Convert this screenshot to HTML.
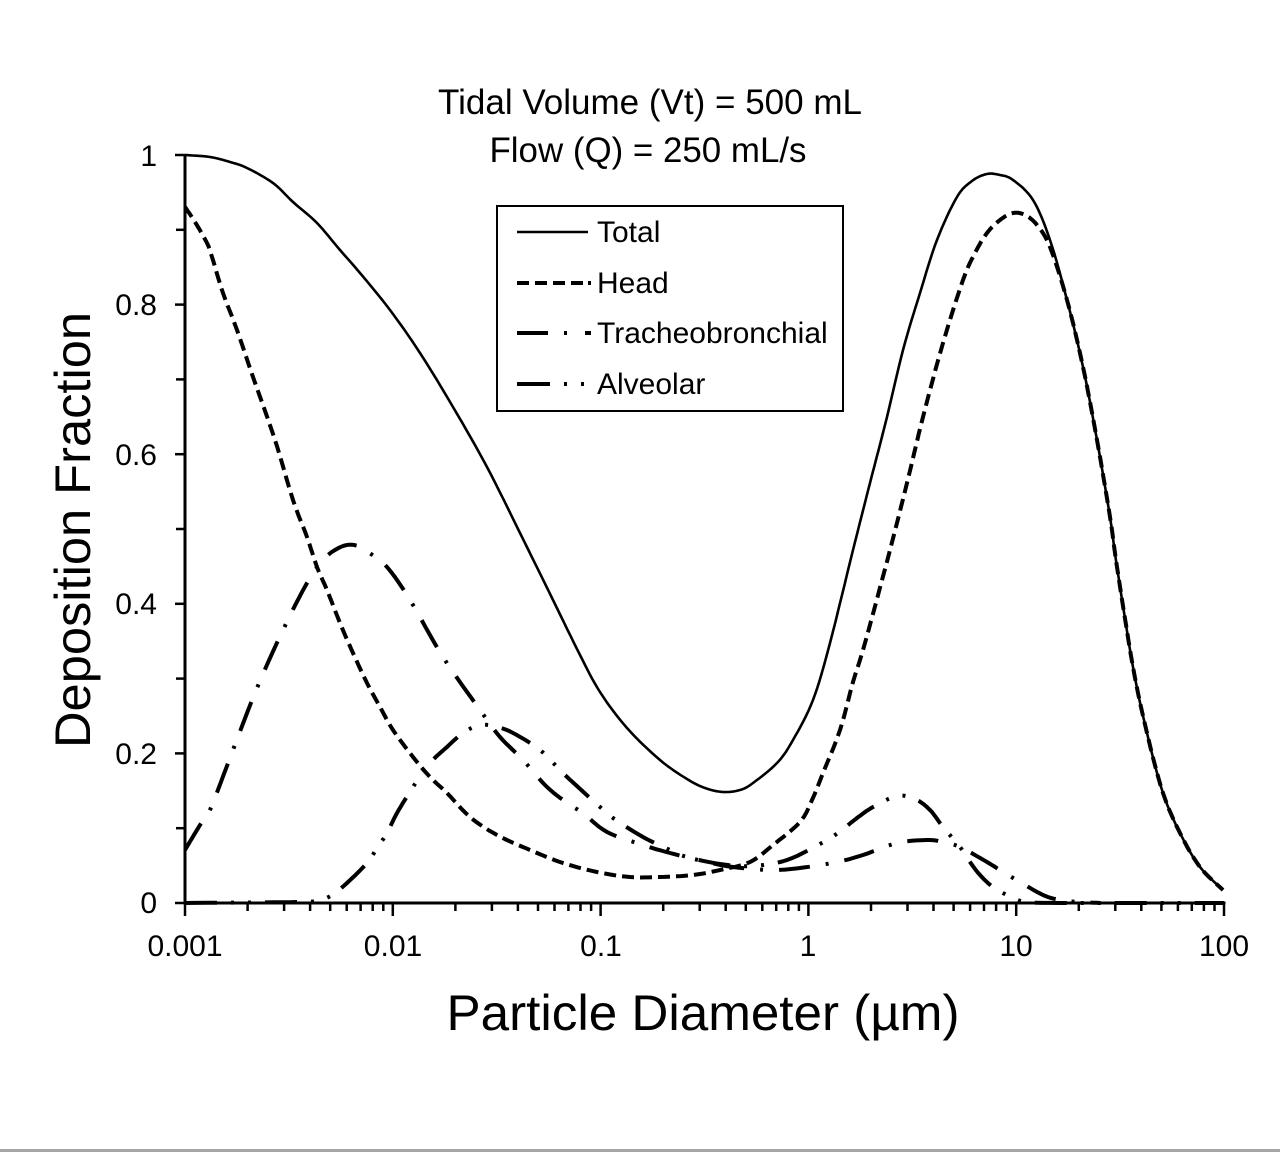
<!DOCTYPE html>
<html>
<head>
<meta charset="utf-8">
<style>
  html, body { margin: 0; padding: 0; background: #ffffff; }
  body { width: 1280px; height: 1152px; overflow: hidden; }
  svg { display: block; }
  text { font-family: "Liberation Sans", "DejaVu Sans", sans-serif; fill: #000; }
</style>
</head>
<body>
<svg width="1280" height="1152" viewBox="0 0 1280 1152" xmlns="http://www.w3.org/2000/svg">
  <rect x="0" y="0" width="1280" height="1152" fill="#ffffff"/>
  <rect x="0" y="1149" width="1280" height="3" fill="#a6a6a6"/>

  <text x="650" y="114" font-size="35" text-anchor="middle" textLength="424" lengthAdjust="spacingAndGlyphs">Tidal Volume (Vt) = 500 mL</text>
  <text x="648" y="162" font-size="35" text-anchor="middle" textLength="317" lengthAdjust="spacingAndGlyphs">Flow (Q) = 250 mL/s</text>

  <text transform="translate(90,530) rotate(-90)" font-size="50" text-anchor="middle" textLength="436" lengthAdjust="spacingAndGlyphs">Deposition Fraction</text>
  <text x="703" y="1030" font-size="50" text-anchor="middle" textLength="513" lengthAdjust="spacingAndGlyphs">Particle Diameter (µm)</text>

  <g font-size="30" text-anchor="end">
    <text x="157" y="166">1</text>
    <text x="157" y="315">0.8</text>
    <text x="157" y="465">0.6</text>
    <text x="157" y="614">0.4</text>
    <text x="157" y="764">0.2</text>
    <text x="157" y="913">0</text>
  </g>
  <g font-size="30" text-anchor="middle">
    <text x="185" y="956">0.001</text>
    <text x="393" y="956">0.01</text>
    <text x="601" y="956">0.1</text>
    <text x="808" y="956">1</text>
    <text x="1016" y="956">10</text>
    <text x="1224" y="956">100</text>
  </g>

  <g stroke="#000" stroke-width="3" fill="none">
    <line x1="185" y1="154" x2="185" y2="904.5"/>
    <line x1="183.5" y1="903" x2="1225.5" y2="903"/>
  </g>
  <g stroke="#000" stroke-width="2.5">
    <line x1="175" y1="155" x2="185" y2="155"/>
    <line x1="176" y1="229.8" x2="185" y2="229.8"/>
    <line x1="175" y1="304.6" x2="185" y2="304.6"/>
    <line x1="176" y1="379.4" x2="185" y2="379.4"/>
    <line x1="175" y1="454.2" x2="185" y2="454.2"/>
    <line x1="176" y1="529" x2="185" y2="529"/>
    <line x1="175" y1="603.8" x2="185" y2="603.8"/>
    <line x1="176" y1="678.6" x2="185" y2="678.6"/>
    <line x1="175" y1="753.4" x2="185" y2="753.4"/>
    <line x1="176" y1="828.2" x2="185" y2="828.2"/>
    <line x1="175" y1="903" x2="185" y2="903"/>
  </g>
  <g stroke="#000" stroke-width="2.5">
    <line x1="185" y1="903" x2="185" y2="916"/>
    <line x1="392.8" y1="903" x2="392.8" y2="916"/>
    <line x1="600.6" y1="903" x2="600.6" y2="916"/>
    <line x1="808.4" y1="903" x2="808.4" y2="916"/>
    <line x1="1016.2" y1="903" x2="1016.2" y2="916"/>
    <line x1="1224" y1="903" x2="1224" y2="916"/>
    <line x1="247.6" y1="903" x2="247.6" y2="911"/>
    <line x1="284.1" y1="903" x2="284.1" y2="911"/>
    <line x1="310.1" y1="903" x2="310.1" y2="911"/>
    <line x1="330.2" y1="903" x2="330.2" y2="911"/>
    <line x1="346.7" y1="903" x2="346.7" y2="911"/>
    <line x1="360.6" y1="903" x2="360.6" y2="911"/>
    <line x1="372.7" y1="903" x2="372.7" y2="911"/>
    <line x1="383.3" y1="903" x2="383.3" y2="911"/>
    <line x1="455.4" y1="903" x2="455.4" y2="911"/>
    <line x1="491.9" y1="903" x2="491.9" y2="911"/>
    <line x1="517.9" y1="903" x2="517.9" y2="911"/>
    <line x1="538.0" y1="903" x2="538.0" y2="911"/>
    <line x1="554.5" y1="903" x2="554.5" y2="911"/>
    <line x1="568.4" y1="903" x2="568.4" y2="911"/>
    <line x1="580.5" y1="903" x2="580.5" y2="911"/>
    <line x1="591.1" y1="903" x2="591.1" y2="911"/>
    <line x1="663.2" y1="903" x2="663.2" y2="911"/>
    <line x1="699.7" y1="903" x2="699.7" y2="911"/>
    <line x1="725.7" y1="903" x2="725.7" y2="911"/>
    <line x1="745.8" y1="903" x2="745.8" y2="911"/>
    <line x1="762.3" y1="903" x2="762.3" y2="911"/>
    <line x1="776.2" y1="903" x2="776.2" y2="911"/>
    <line x1="788.3" y1="903" x2="788.3" y2="911"/>
    <line x1="798.9" y1="903" x2="798.9" y2="911"/>
    <line x1="871.0" y1="903" x2="871.0" y2="911"/>
    <line x1="907.5" y1="903" x2="907.5" y2="911"/>
    <line x1="933.5" y1="903" x2="933.5" y2="911"/>
    <line x1="953.6" y1="903" x2="953.6" y2="911"/>
    <line x1="970.1" y1="903" x2="970.1" y2="911"/>
    <line x1="984.0" y1="903" x2="984.0" y2="911"/>
    <line x1="996.1" y1="903" x2="996.1" y2="911"/>
    <line x1="1006.7" y1="903" x2="1006.7" y2="911"/>
    <line x1="1078.8" y1="903" x2="1078.8" y2="911"/>
    <line x1="1115.3" y1="903" x2="1115.3" y2="911"/>
    <line x1="1141.3" y1="903" x2="1141.3" y2="911"/>
    <line x1="1161.4" y1="903" x2="1161.4" y2="911"/>
    <line x1="1177.9" y1="903" x2="1177.9" y2="911"/>
    <line x1="1191.8" y1="903" x2="1191.8" y2="911"/>
    <line x1="1203.9" y1="903" x2="1203.9" y2="911"/>
    <line x1="1214.5" y1="903" x2="1214.5" y2="911"/>
  </g>

  <g fill="none" stroke="#000" stroke-linejoin="round">
    <polyline class="smooth" stroke-width="4" stroke-dasharray="32 14 3 14 3 14"
      points="185,903 300,902 320,900 332,895 347,883 367,863 377,848 387,833 397,813 413,787 430,763 447,747 463,733 480,725 497,727 513,733 540,750 565,775 600,807 613,818 643,837 670,850 687,857 720,864 750,866 787,860 827,840 843,829 857,818 873,807 897,796 915,799 930,810 943,827 960,847 970,862 980,875 993,887 1013,898 1027,902 1060,903 1224,903"/>
    <polyline class="smooth" stroke-width="4" stroke-dasharray="31 16 3 16"
      points="185,850 200,825 210,810 233,750 257,688 283,630 307,583 323,560 335,550 347,545 358,546 368,552 387,567 410,600 443,657 480,710 500,737 523,760 547,787 570,805 583,813 607,832 643,845 670,853 707,862 733,867 770,870 800,868 837,862 863,855 897,843 927,840 943,842 960,847 987,862 1003,872 1020,882 1043,895 1060,900 1080,902 1100,903"/>
    <polyline class="smooth" stroke-width="4" stroke-dasharray="12 6"
      points="185,207 195,222 207,243 212,257 223,293 237,330 253,377 275,440 293,500 307,537 317,567 327,590 340,623 353,653 367,683 380,707 393,730 413,757 430,777 447,793 470,817 497,835 530,850 563,863 597,872 630,877 660,877 693,875 720,870 750,862 773,845 800,822 812,800 823,773 840,730 853,682 865,643 890,550 907,483 923,417 943,343 963,280 975,253 987,233 1000,220 1013,213 1025,215 1037,225 1050,247 1067,300 1083,367 1097,440 1110,517 1117,567 1133,667 1147,733 1163,793 1180,833 1200,867 1223,890"/>
    <polyline class="smooth" stroke-width="2.6"
      points="185,155 210,157 230,162 247,168 273,183 293,202 317,223 340,250 360,273 390,310 420,353 453,407 487,467 520,533 553,600 580,655 600,692 627,728 660,760 687,779 705,788 723,792 740,790 753,783 777,763 793,740 813,700 830,643 853,550 870,483 887,417 903,350 920,293 937,240 957,197 972,181 987,174 1000,175 1013,180 1033,200 1050,240 1067,300 1083,367 1097,440 1110,517 1117,567 1133,667 1147,733 1163,793 1180,833 1200,867 1223,890"/>
  </g>

  <rect x="497" y="206" width="346" height="205" fill="#ffffff" stroke="#000" stroke-width="2"/>
  <g stroke="#000" fill="none">
    <line x1="517" y1="232" x2="588" y2="232" stroke-width="2.6"/>
    <line x1="517" y1="283" x2="591" y2="283" stroke-width="4" stroke-dasharray="12 6 12 6 12 6 12 5 3 50"/>
    <line x1="517" y1="333" x2="591" y2="333" stroke-width="4" stroke-dasharray="31 16 3 18 6 50"/>
    <line x1="517" y1="384" x2="591" y2="384" stroke-width="4" stroke-dasharray="33 14 3 14 3 50"/>
  </g>
  <g font-size="30">
    <text x="597" y="242">Total</text>
    <text x="597" y="293">Head</text>
    <text x="597" y="343">Tracheobronchial</text>
    <text x="597" y="394">Alveolar</text>
  </g>
</svg>
<script>
(function(){
  var els = document.querySelectorAll('polyline.smooth');
  for (var e = 0; e < els.length; e++) {
    var el = els[e];
    var raw = el.getAttribute('points').trim().split(/\s+/);
    var p = [];
    for (var i = 0; i < raw.length; i++) { var c = raw[i].split(','); p.push([+c[0], +c[1]]); }
    var out = [];
    for (var i = 0; i < p.length - 1; i++) {
      var p0 = p[i > 0 ? i - 1 : i], p1 = p[i], p2 = p[i + 1], p3 = p[i + 2 < p.length ? i + 2 : i + 1];
      for (var k = 0; k < 8; k++) {
        var t = k / 8, t2 = t * t, t3 = t2 * t;
        var x = 0.5 * ((2 * p1[0]) + (-p0[0] + p2[0]) * t + (2 * p0[0] - 5 * p1[0] + 4 * p2[0] - p3[0]) * t2 + (-p0[0] + 3 * p1[0] - 3 * p2[0] + p3[0]) * t3);
        var y = 0.5 * ((2 * p1[1]) + (-p0[1] + p2[1]) * t + (2 * p0[1] - 5 * p1[1] + 4 * p2[1] - p3[1]) * t2 + (-p0[1] + 3 * p1[1] - 3 * p2[1] + p3[1]) * t3);
        if (y > 903) y = 903;
        out.push(x.toFixed(1) + ',' + y.toFixed(1));
      }
    }
    var last = p[p.length - 1];
    out.push(last[0] + ',' + last[1]);
    el.setAttribute('points', out.join(' '));
  }
})();
</script>
</body>
</html>
